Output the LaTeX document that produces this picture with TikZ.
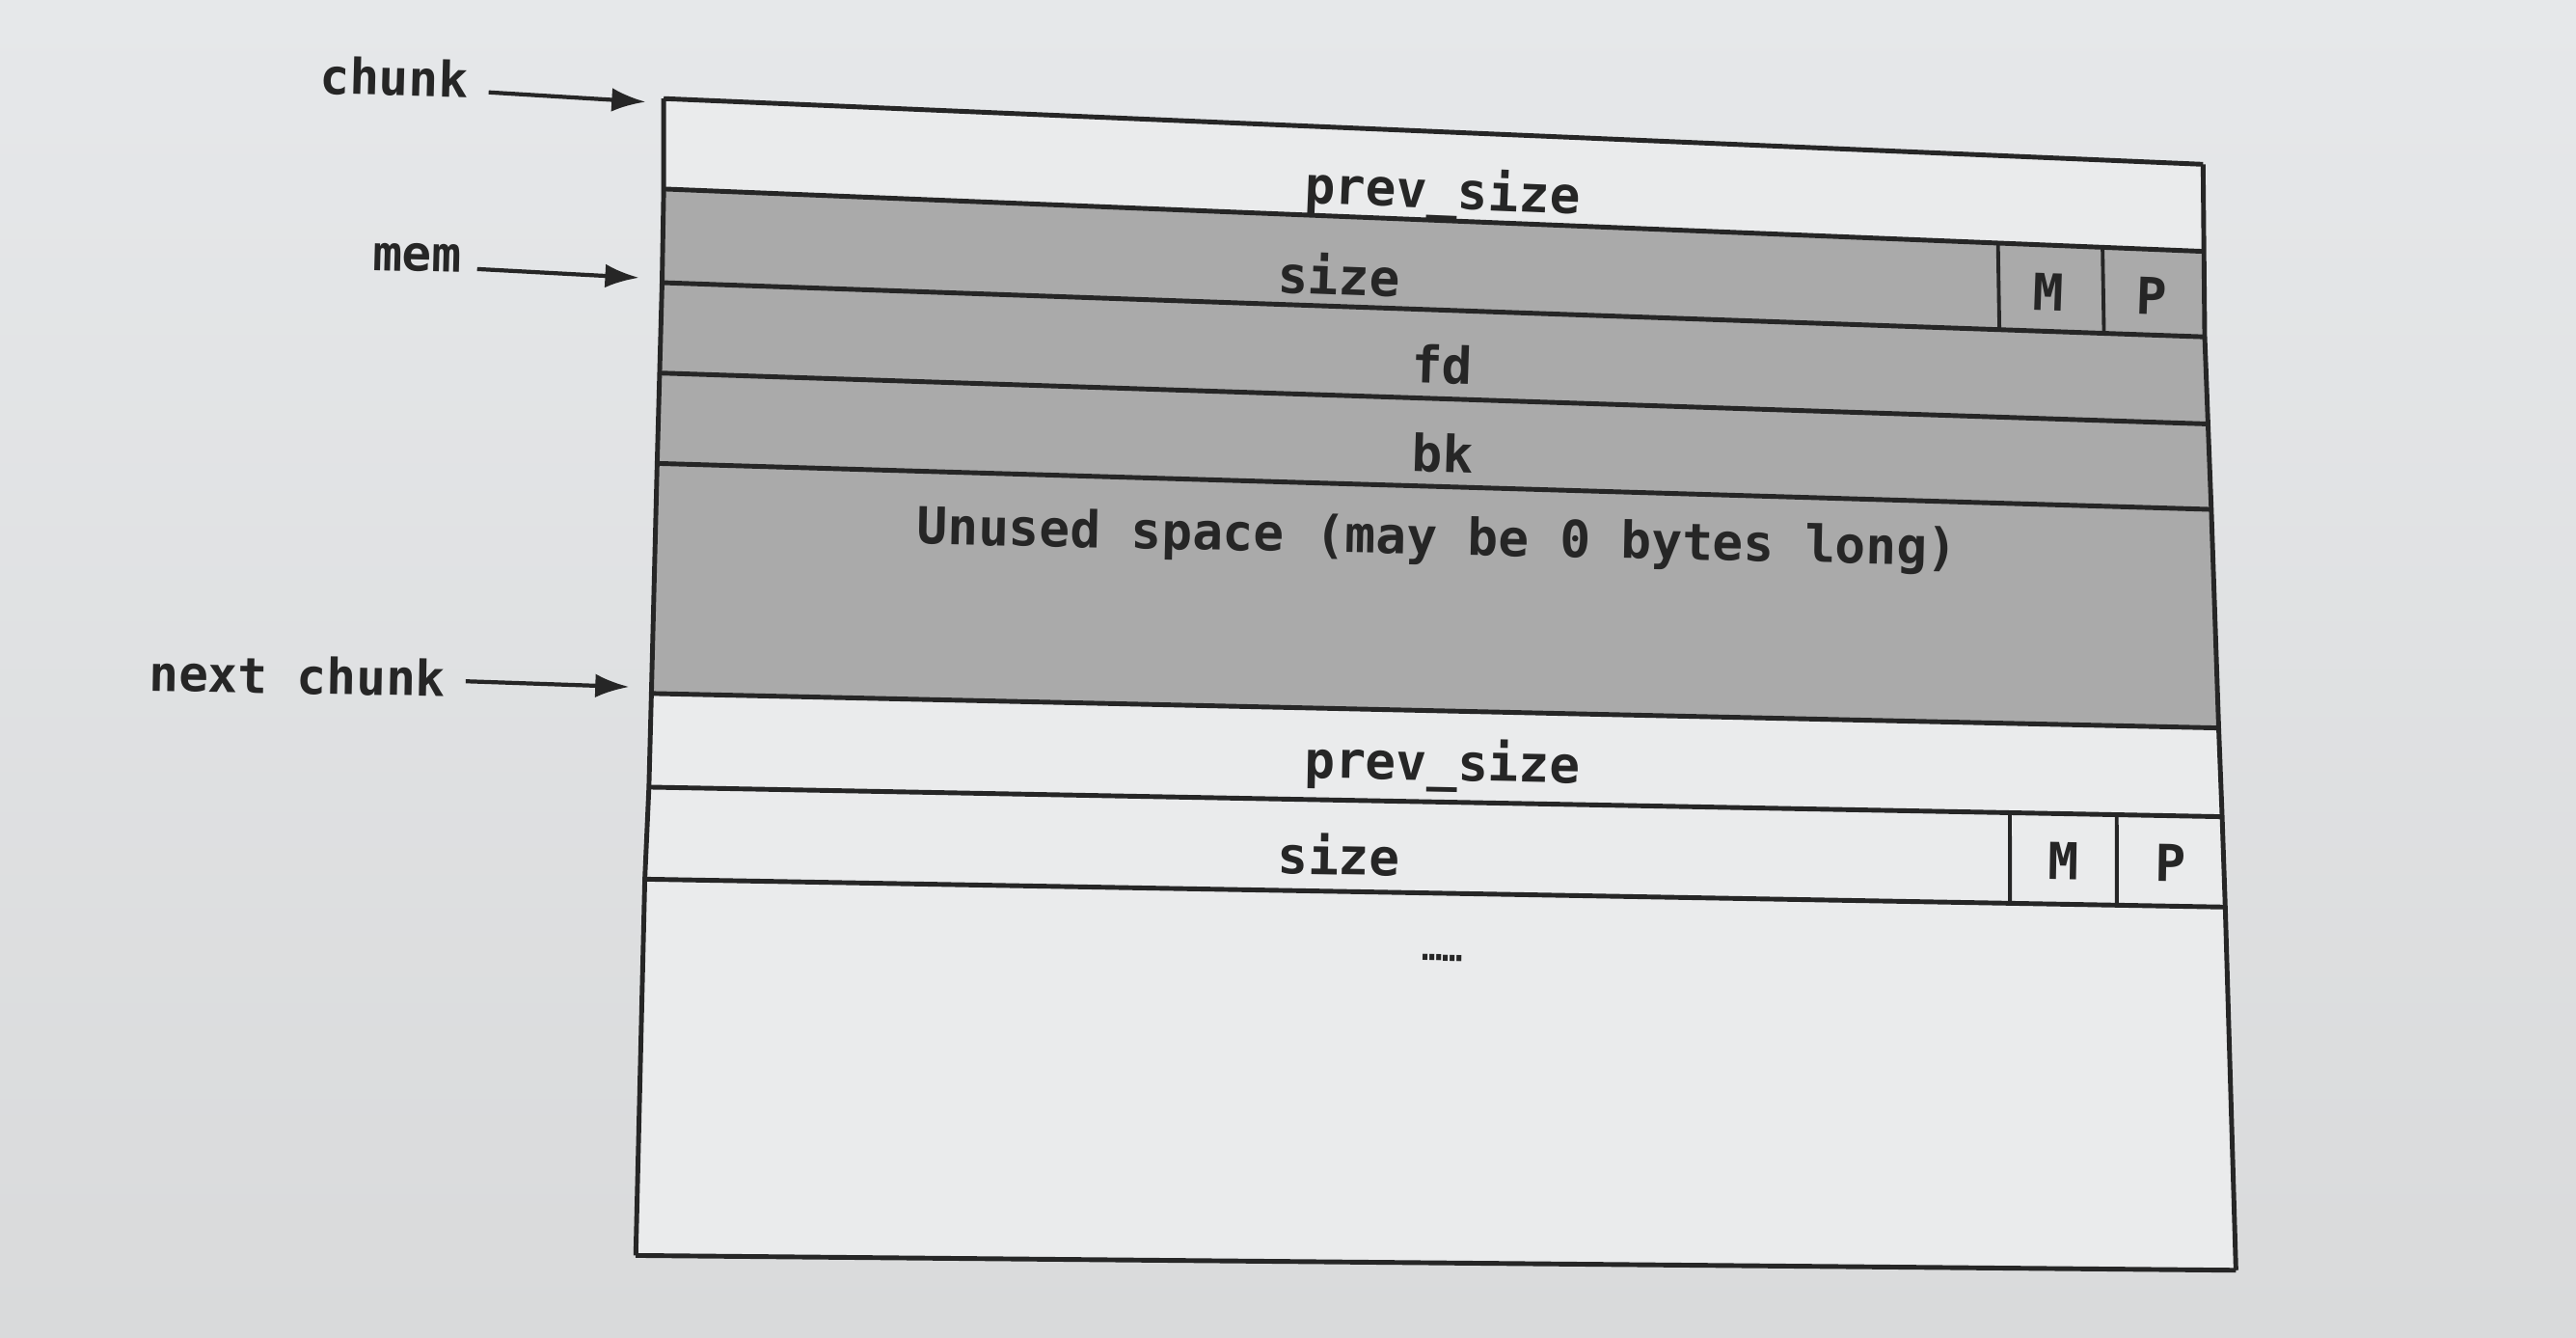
\documentclass[tikz,border=0pt]{standalone}
\usepackage{fontspec}
\setmonofont{DejaVu Sans Mono}
\usetikzlibrary{calc,arrows.meta}
\definecolor{pagetop}{HTML}{E6E8EA}
\definecolor{pagebot}{HTML}{D9DADB}
\definecolor{lightband}{HTML}{EAEBEC}
\definecolor{darkband}{HTML}{AAAAAA}
\definecolor{ink}{HTML}{262626}
\begin{document}
\begin{tikzpicture}[x=0.017034cm,y=-0.017034cm,
  rule/.style={line width=1.4pt, draw=ink, line join=round},
  thin rule/.style={line width=1.1pt, draw=ink},
  txt/.style={font=\ttfamily\bfseries\fontsize{15}{15}\selectfont, text=ink, inner sep=0pt},
  lbl/.style={font=\ttfamily\bfseries\fontsize{14.5}{15}\selectfont, text=ink, inner sep=0pt},
  ptr/.style={line width=1.2pt, draw=ink, -{Latex[length=10pt,width=7pt]}},
  lightfill/.style={fill=lightband},
  darkfill/.style={fill=darkband}]
% page
\shade[top color=pagetop, bottom color=pagebot] (0,0) rectangle (1568,814);
\useasboundingbox (0,0) rectangle (1568,814);
% left edge points
\coordinate (L0) at (404,60);
\coordinate (L1) at (404,115);
\coordinate (L2) at (403,172);
\coordinate (L3) at (401.5,227);
\coordinate (L4) at (400,282);
\coordinate (L5) at (396.5,422);
\coordinate (L6) at (395,479);
\coordinate (L7) at (392.5,535);
\coordinate (L8) at (387,764);
% right edge points
\coordinate (R0) at (1341,100);
\coordinate (R1) at (1341.5,153);
\coordinate (R2) at (1342,205);
\coordinate (R3) at (1344,258);
\coordinate (R4) at (1346,310);
\coordinate (R5) at (1350.5,443);
\coordinate (R6) at (1352.6,497);
\coordinate (R7) at (1354.5,552);
\coordinate (R8) at (1361,773);
% bands
\fill[lightfill] (L0)--(R0)--(R1)--(L1)--cycle;
\fill[darkfill] (L1)--(R1)--(R2)--(R3)--(R4)--(R5)--(L5)--(L4)--(L3)--(L2)--cycle;
\fill[lightfill] (L5)--(R5)--(R6)--(R7)--(R8)--(L8)--(L7)--(L6)--cycle;
% horizontal rules
\foreach \i in {0,...,8}{\draw[rule] (L\i)--(R\i);}
% outer edges
\draw[rule] (L0)--(L1)--(L2)--(L3)--(L4)--(L5)--(L6)--(L7)--(L8);
\draw[rule] (R0)--(R1)--(R2)--(R3)--(R4)--(R5)--(R6)--(R7)--(R8);
% M / P dividers, first chunk
\draw[thin rule] ($(L1)!0.8663!(R1)$) -- ($(L2)!0.8669!(R2)$);
\draw[thin rule] ($(L1)!0.9342!(R1)$) -- ($(L2)!0.9347!(R2)$);
% M / P dividers, next chunk
\draw[thin rule] ($(L6)!0.8651!(R6)$) -- ($(L7)!0.8638!(R7)$);
\draw[thin rule] ($(L6)!0.9330!(R6)$) -- ($(L7)!0.9314!(R7)$);
% field texts
\node[txt, rotate=-2.4] (ps1) at (878,118) {prev\_size};
\node[txt, rotate=-2.2] (sz1) at (815,167) {size};
\node[txt, rotate=-2.0] (m1) at (1247,178) {M};
\node[txt, rotate=-2.0] (p1) at (1310,180) {P};
\node[txt, rotate=-1.9] (fd) at (878,222) {fd};
\node[txt, rotate=-1.8] (bk) at (878,276) {bk};
\node[txt, rotate=-1.2] (unused) at (875,329) {Unused space (may be 0 bytes long)};
\node[txt, rotate=-1.1] (ps2) at (878,466) {prev\_size};
\node[txt, rotate=-1.0] (sz2) at (815,520) {size};
\node[txt, rotate=-1.0] (m2) at (1256,524) {M};
\node[txt, rotate=-1.0] (p2) at (1321,525) {P};
\node[txt, font=\ttfamily\bfseries\fontsize{10}{10}\selectfont, rotate=-0.8] (dots) at (878,583) {……};
% pointer labels
\node[lbl, rotate=-1.5] (chunk) at (240,47) {chunk};
\node[lbl, rotate=-1.5] (mem) at (254,157) {mem};
\node[lbl, rotate=-1] (next) at (181,411) {next chunk};
\coordinate (chunkTip) at (393,62);
\coordinate (memTip) at (389,169);
\coordinate (nextTip) at (383,418);
\draw[ptr] ($(chunk.east)+(12,8)$) -- (chunkTip);
\draw[ptr] ($(mem.east)+(9,6)$) -- (memTip);
\draw[ptr] ($(next.east)+(12,2)$) -- (nextTip);
\end{tikzpicture}
\end{document}
